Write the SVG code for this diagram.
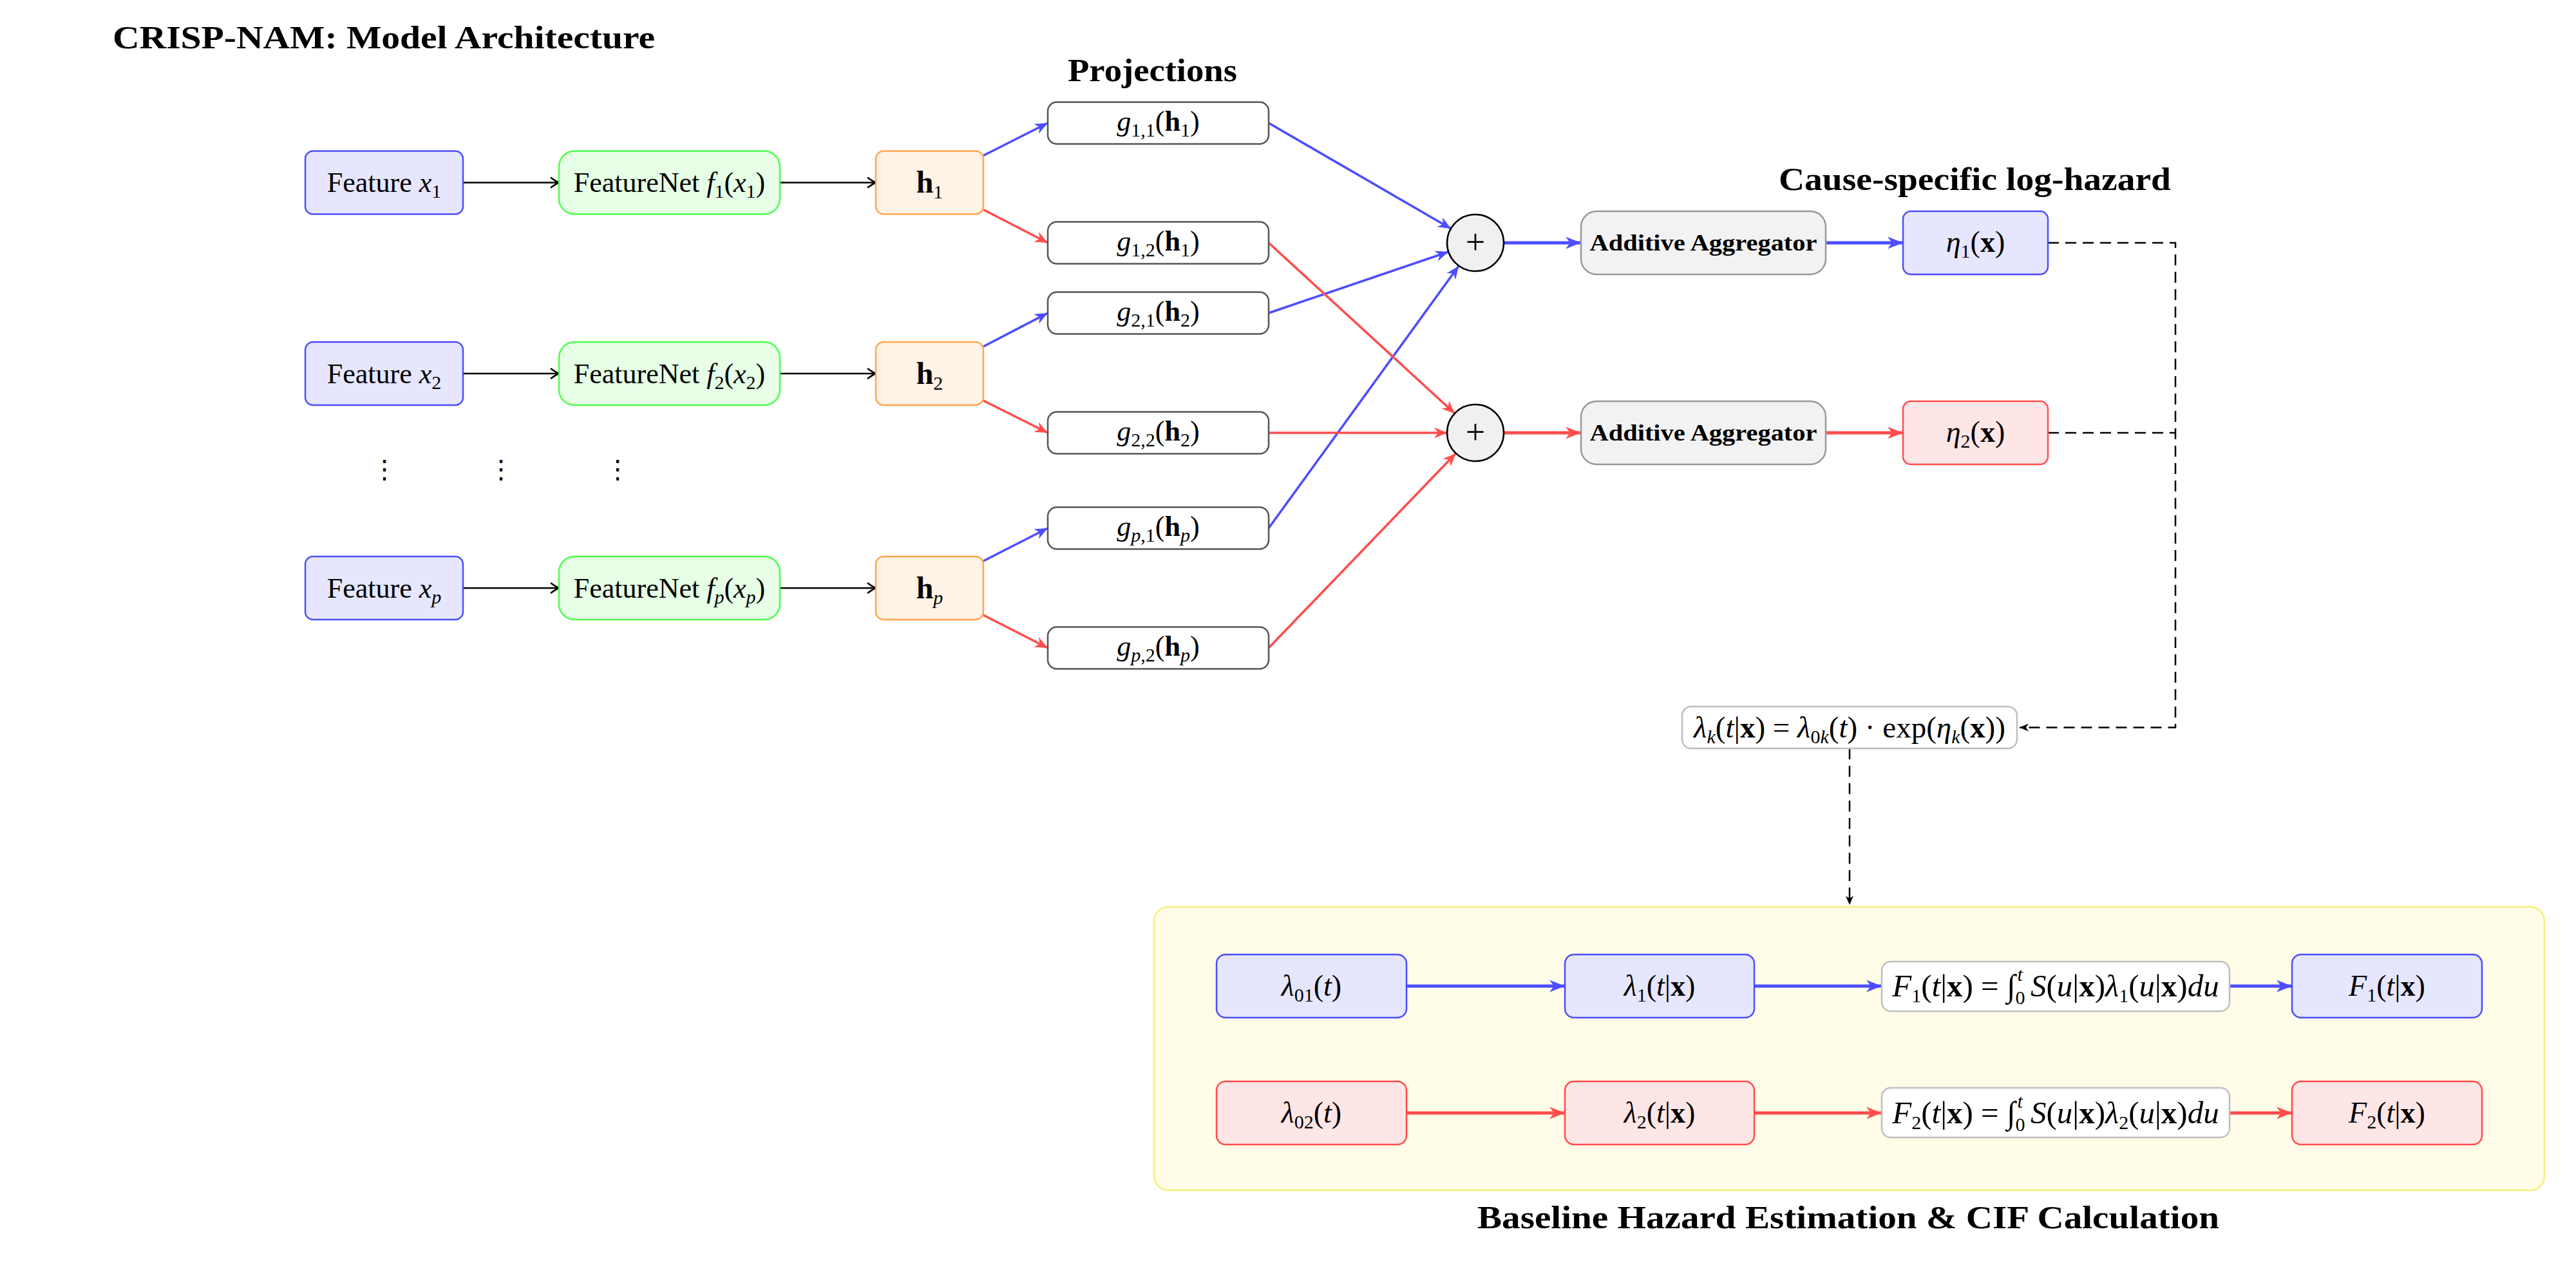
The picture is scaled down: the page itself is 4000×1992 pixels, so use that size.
<svg xmlns="http://www.w3.org/2000/svg" width="4000" height="1992" viewBox="0 0 4000 1992">
<style>
.t{font-family:"Liberation Serif","DejaVu Serif",serif;font-size:44px;text-anchor:middle;fill:#000}
.title{font-family:"Liberation Serif","DejaVu Serif",serif;font-size:51px;font-weight:bold;fill:#000}
.i{font-style:italic}
.b{font-weight:bold}
.s{font-size:30px}
.feat{fill:#e6e6ff;stroke:#4d4dff;stroke-width:2.5}
.red{fill:#ffe6e6;stroke:#ff4d4d;stroke-width:2.5}
.fnet{fill:#e6ffe6;stroke:#4dff4d;stroke-width:2.5}
.hbox{fill:#fff2e6;stroke:#ffa64d;stroke-width:2.5}
.gbox{fill:#fff;stroke:#555;stroke-width:2.5}
.agg{fill:#f2f2f2;stroke:#999;stroke-width:2.5}
.form{fill:#fff;stroke:#bfbfbf;stroke-width:2.5}
.plus{fill:#f0f0f0;stroke:#000;stroke-width:2.5}
.kb{stroke:#000;stroke-width:2.5;fill:none;marker-end:url(#mk)}
.lb{stroke:#4d4dff;stroke-width:3.6;fill:none;marker-end:url(#mb)}
.lr{stroke:#ff4d4d;stroke-width:3.6;fill:none;marker-end:url(#mr)}
.tb{stroke:#4d4dff;stroke-width:5;fill:none;marker-end:url(#mbt)}
.tr{stroke:#ff4d4d;stroke-width:5;fill:none;marker-end:url(#mrt)}
.dash{stroke:#000;stroke-width:2.5;fill:none;stroke-dasharray:17 10}
</style>
<defs>
<marker id="mk" viewBox="-16 -10 18 20" refX="0" refY="0" markerWidth="18" markerHeight="20" markerUnits="userSpaceOnUse" orient="auto"><path d="M-13,-8 Q-5,-2 0,0 Q-5,2 -13,8" fill="none" stroke="#000" stroke-width="2.5"/></marker>
<marker id="mb" viewBox="-22 -10 24 20" refX="0" refY="0" markerWidth="24" markerHeight="20" markerUnits="userSpaceOnUse" orient="auto"><path d="M0,0 L-20,-8.5 L-14,0 L-20,8.5 Z" fill="#4d4dff"/></marker>
<marker id="mr" viewBox="-22 -10 24 20" refX="0" refY="0" markerWidth="24" markerHeight="20" markerUnits="userSpaceOnUse" orient="auto"><path d="M0,0 L-20,-8.5 L-14,0 L-20,8.5 Z" fill="#ff4d4d"/></marker>
<marker id="mbt" viewBox="-26 -11 28 22" refX="0" refY="0" markerWidth="28" markerHeight="22" markerUnits="userSpaceOnUse" orient="auto"><path d="M0,0 L-24,-9.5 L-17,0 L-24,9.5 Z" fill="#4d4dff"/></marker>
<marker id="mrt" viewBox="-26 -11 28 22" refX="0" refY="0" markerWidth="28" markerHeight="22" markerUnits="userSpaceOnUse" orient="auto"><path d="M0,0 L-24,-9.5 L-17,0 L-24,9.5 Z" fill="#ff4d4d"/></marker>
<marker id="md" viewBox="-16 -8 18 16" refX="0" refY="0" markerWidth="18" markerHeight="16" markerUnits="userSpaceOnUse" orient="auto"><path d="M0,0 L-14,-6 L-10,0 L-14,6 Z" fill="#000"/></marker>
</defs>
<rect width="4000" height="1992" fill="#fff"/>

<g id="titles">
<text class="title" x="175" y="75" textLength="842" lengthAdjust="spacingAndGlyphs">CRISP-NAM: Model Architecture</text>
<text class="title" x="1658" y="126" textLength="263" lengthAdjust="spacingAndGlyphs">Projections</text>
<text class="title" x="2762" y="295" textLength="609" lengthAdjust="spacingAndGlyphs">Cause-specific log-hazard</text>
<text class="title" x="2294" y="1907" textLength="1152" lengthAdjust="spacingAndGlyphs">Baseline Hazard Estimation &amp; CIF Calculation</text>
</g>

<g id="panel">
<rect x="1792" y="1408" width="2159" height="440" rx="22" fill="#fffde8" stroke="#f8f08c" stroke-width="3"/>
</g>

<g id="connectors">
<line class="kb" x1="719" y1="283.5" x2="868" y2="283.5"/>
<line class="kb" x1="1211" y1="283.5" x2="1360" y2="283.5"/>
<line class="kb" x1="719" y1="580" x2="868" y2="580"/>
<line class="kb" x1="1211" y1="580" x2="1360" y2="580"/>
<line class="kb" x1="719" y1="913" x2="868" y2="913"/>
<line class="kb" x1="1211" y1="913" x2="1360" y2="913"/>
<line class="lb" x1="1527" y1="241.5" x2="1627" y2="191"/>
<line class="lr" x1="1527" y1="325.5" x2="1627" y2="377"/>
<line class="lb" x1="1527" y1="538" x2="1627" y2="486"/>
<line class="lr" x1="1527" y1="622" x2="1627" y2="672"/>
<line class="lb" x1="1527" y1="871" x2="1627" y2="820"/>
<line class="lr" x1="1527" y1="955" x2="1627" y2="1006"/>
<line class="lb" x1="1970" y1="191" x2="2253" y2="355"/>
<line class="lb" x1="1970" y1="486" x2="2249" y2="391"/>
<line class="lb" x1="1970" y1="820" x2="2265" y2="413"/>
<line class="lr" x1="1970" y1="377" x2="2259" y2="642"/>
<line class="lr" x1="1970" y1="672" x2="2247" y2="672"/>
<line class="lr" x1="1970" y1="1006" x2="2260.5" y2="704"/>
<line class="tb" x1="2335" y1="377" x2="2455" y2="377"/>
<line class="tr" x1="2335" y1="672" x2="2455" y2="672"/>
<line class="tb" x1="2835" y1="377" x2="2955" y2="377"/>
<line class="tr" x1="2835" y1="672" x2="2955" y2="672"/>
<path class="dash" d="M3180,377 H3378 V1129.5 H3136" marker-end="url(#md)"/>
<path class="dash" d="M3180,672 H3378"/>
<path class="dash" d="M2872,1162 V1405" marker-end="url(#md)"/>
<line class="tb" x1="2184" y1="1531" x2="2430" y2="1531"/>
<line class="tb" x1="2724" y1="1531" x2="2922" y2="1531"/>
<line class="tb" x1="3462" y1="1531" x2="3559" y2="1531"/>
<line class="tr" x1="2184" y1="1728" x2="2430" y2="1728"/>
<line class="tr" x1="2724" y1="1728" x2="2922" y2="1728"/>
<line class="tr" x1="3462" y1="1728" x2="3559" y2="1728"/>
</g>

<g id="feat1"><rect class="feat" x="474" y="234.5" width="245" height="98" rx="12"/><text class="t" x="596.5" y="298">Feature <tspan class="i">x</tspan><tspan class="s" dy="9">1</tspan></text></g>
<g id="feat2"><rect class="feat" x="474" y="531" width="245" height="98" rx="12"/><text class="t" x="596.5" y="594.5">Feature <tspan class="i">x</tspan><tspan class="s" dy="9">2</tspan></text></g>
<g id="featp"><rect class="feat" x="474" y="864" width="245" height="98" rx="12"/><text class="t" x="596.5" y="927.5">Feature <tspan class="i">x</tspan><tspan class="s i" dy="9">p</tspan></text></g>

<g id="fnet1"><rect class="fnet" x="868" y="234.5" width="343" height="98" rx="24"/><text class="t" x="1039.5" y="298">FeatureNet <tspan class="i">f</tspan><tspan class="s" dy="9">1</tspan><tspan dy="-9">(</tspan><tspan class="i">x</tspan><tspan class="s" dy="9">1</tspan><tspan dy="-9">)</tspan></text></g>
<g id="fnet2"><rect class="fnet" x="868" y="531" width="343" height="98" rx="24"/><text class="t" x="1039.5" y="594.5">FeatureNet <tspan class="i">f</tspan><tspan class="s" dy="9">2</tspan><tspan dy="-9">(</tspan><tspan class="i">x</tspan><tspan class="s" dy="9">2</tspan><tspan dy="-9">)</tspan></text></g>
<g id="fnetp"><rect class="fnet" x="868" y="864" width="343" height="98" rx="24"/><text class="t" x="1039.5" y="927.5">FeatureNet <tspan class="i">f</tspan><tspan class="s i" dy="9">p</tspan><tspan dy="-9">(</tspan><tspan class="i">x</tspan><tspan class="s i" dy="9">p</tspan><tspan dy="-9">)</tspan></text></g>

<g id="h1"><rect class="hbox" x="1360" y="234.5" width="167" height="98" rx="12"/><text class="t" x="1443.5" y="299" style="font-size:48px"><tspan class="b">h</tspan><tspan class="s" dy="9">1</tspan></text></g>
<g id="h2"><rect class="hbox" x="1360" y="531" width="167" height="98" rx="12"/><text class="t" x="1443.5" y="595.5" style="font-size:48px"><tspan class="b">h</tspan><tspan class="s" dy="9">2</tspan></text></g>
<g id="hp"><rect class="hbox" x="1360" y="864" width="167" height="98" rx="12"/><text class="t" x="1443.5" y="928.5" style="font-size:48px"><tspan class="b">h</tspan><tspan class="s i" dy="9">p</tspan></text></g>

<g id="dots">
<text class="t" x="597" y="742" style="font-family:'DejaVu Serif',serif;font-size:40px">⋮</text>
<text class="t" x="778" y="742" style="font-family:'DejaVu Serif',serif;font-size:40px">⋮</text>
<text class="t" x="959" y="742" style="font-family:'DejaVu Serif',serif;font-size:40px">⋮</text>
</g>

<g id="g11"><rect class="gbox" x="1627" y="158.5" width="343" height="65" rx="14"/><text class="t" x="1798.5" y="203"><tspan class="i">g</tspan><tspan class="s" dy="9">1,1</tspan><tspan dy="-9">(</tspan><tspan class="b">h</tspan><tspan class="s" dy="9">1</tspan><tspan dy="-9">)</tspan></text></g>
<g id="g12"><rect class="gbox" x="1627" y="344.5" width="343" height="65" rx="14"/><text class="t" x="1798.5" y="389"><tspan class="i">g</tspan><tspan class="s" dy="9">1,2</tspan><tspan dy="-9">(</tspan><tspan class="b">h</tspan><tspan class="s" dy="9">1</tspan><tspan dy="-9">)</tspan></text></g>
<g id="g21"><rect class="gbox" x="1627" y="453.5" width="343" height="65" rx="14"/><text class="t" x="1798.5" y="498"><tspan class="i">g</tspan><tspan class="s" dy="9">2,1</tspan><tspan dy="-9">(</tspan><tspan class="b">h</tspan><tspan class="s" dy="9">2</tspan><tspan dy="-9">)</tspan></text></g>
<g id="g22"><rect class="gbox" x="1627" y="639.5" width="343" height="65" rx="14"/><text class="t" x="1798.5" y="684"><tspan class="i">g</tspan><tspan class="s" dy="9">2,2</tspan><tspan dy="-9">(</tspan><tspan class="b">h</tspan><tspan class="s" dy="9">2</tspan><tspan dy="-9">)</tspan></text></g>
<g id="gp1"><rect class="gbox" x="1627" y="787.5" width="343" height="65" rx="14"/><text class="t" x="1798.5" y="832"><tspan class="i">g</tspan><tspan class="s" dy="9"><tspan class="i">p</tspan>,1</tspan><tspan dy="-9">(</tspan><tspan class="b">h</tspan><tspan class="s i" dy="9">p</tspan><tspan dy="-9">)</tspan></text></g>
<g id="gp2"><rect class="gbox" x="1627" y="973.5" width="343" height="65" rx="14"/><text class="t" x="1798.5" y="1018"><tspan class="i">g</tspan><tspan class="s" dy="9"><tspan class="i">p</tspan>,2</tspan><tspan dy="-9">(</tspan><tspan class="b">h</tspan><tspan class="s i" dy="9">p</tspan><tspan dy="-9">)</tspan></text></g>

<g id="plus1"><circle class="plus" cx="2291" cy="377" r="44"/><text class="t" x="2291" y="394" style="font-size:54px">+</text></g>
<g id="plus2"><circle class="plus" cx="2291" cy="672" r="44"/><text class="t" x="2291" y="689" style="font-size:54px">+</text></g>

<g id="agg1"><rect class="agg" x="2455" y="328" width="380" height="98" rx="24"/><text class="t b" x="2645" y="389" style="font-size:36px" textLength="353" lengthAdjust="spacingAndGlyphs">Additive Aggregator</text></g>
<g id="agg2"><rect class="agg" x="2455" y="623" width="380" height="98" rx="24"/><text class="t b" x="2645" y="684" style="font-size:36px" textLength="353" lengthAdjust="spacingAndGlyphs">Additive Aggregator</text></g>

<g id="eta1"><rect class="feat" x="2955" y="328" width="225" height="98" rx="12"/><text class="t" x="3067.5" y="391" style="font-size:46px"><tspan class="i">η</tspan><tspan class="s" dy="9">1</tspan><tspan dy="-9">(</tspan><tspan class="b">x</tspan>)</text></g>
<g id="eta2"><rect class="red" x="2955" y="623" width="225" height="98" rx="12"/><text class="t" x="3067.5" y="686" style="font-size:46px"><tspan class="i">η</tspan><tspan class="s" dy="9">2</tspan><tspan dy="-9">(</tspan><tspan class="b">x</tspan>)</text></g>

<g id="hazard"><rect class="form" x="2612" y="1097" width="520" height="65" rx="14"/><text class="t" x="2872" y="1145" style="font-size:47px"><tspan class="i">λ</tspan><tspan class="s i" dy="9">k</tspan><tspan dy="-9">(</tspan><tspan class="i">t</tspan>|<tspan class="b">x</tspan>) = <tspan class="i">λ</tspan><tspan class="s" dy="9">0<tspan class="i">k</tspan></tspan><tspan dy="-9">(</tspan><tspan class="i">t</tspan>) · exp(<tspan class="i">η</tspan><tspan class="s i" dy="9">k</tspan><tspan dy="-9">(</tspan><tspan class="b">x</tspan>))</text></g>

<g id="lam01"><rect class="feat" x="1889" y="1482" width="295" height="98" rx="14"/><text class="t" x="2036.5" y="1546" style="font-size:46px"><tspan class="i">λ</tspan><tspan class="s" dy="9">01</tspan><tspan dy="-9">(</tspan><tspan class="i">t</tspan>)</text></g>
<g id="lam1"><rect class="feat" x="2430" y="1482" width="294" height="98" rx="14"/><text class="t" x="2577" y="1546" style="font-size:46px"><tspan class="i">λ</tspan><tspan class="s" dy="9">1</tspan><tspan dy="-9">(</tspan><tspan class="i">t</tspan>|<tspan class="b">x</tspan>)</text></g>
<g id="cif1calc"><rect class="form" x="2922" y="1493" width="540" height="77" rx="14"/><text class="t" x="3192" y="1547" style="font-size:49px"><tspan class="i">F</tspan><tspan class="s" dy="9">1</tspan><tspan dy="-9">(</tspan><tspan class="i">t</tspan>|<tspan class="b">x</tspan>) = ∫<tspan class="s" dy="12">0</tspan><tspan class="s i" dx="-12" dy="-36">t</tspan><tspan dy="24"> </tspan><tspan class="i">S</tspan>(<tspan class="i">u</tspan>|<tspan class="b">x</tspan>)<tspan class="i">λ</tspan><tspan class="s" dy="9">1</tspan><tspan dy="-9">(</tspan><tspan class="i">u</tspan>|<tspan class="b">x</tspan>)<tspan class="i">du</tspan></text></g>
<g id="cif1"><rect class="feat" x="3559" y="1482" width="295" height="98" rx="14"/><text class="t" x="3706.5" y="1546" style="font-size:46px"><tspan class="i">F</tspan><tspan class="s" dy="9">1</tspan><tspan dy="-9">(</tspan><tspan class="i">t</tspan>|<tspan class="b">x</tspan>)</text></g>

<g id="lam02"><rect class="red" x="1889" y="1679" width="295" height="98" rx="14"/><text class="t" x="2036.5" y="1743" style="font-size:46px"><tspan class="i">λ</tspan><tspan class="s" dy="9">02</tspan><tspan dy="-9">(</tspan><tspan class="i">t</tspan>)</text></g>
<g id="lam2"><rect class="red" x="2430" y="1679" width="294" height="98" rx="14"/><text class="t" x="2577" y="1743" style="font-size:46px"><tspan class="i">λ</tspan><tspan class="s" dy="9">2</tspan><tspan dy="-9">(</tspan><tspan class="i">t</tspan>|<tspan class="b">x</tspan>)</text></g>
<g id="cif2calc"><rect class="form" x="2922" y="1689" width="540" height="77" rx="14"/><text class="t" x="3192" y="1744" style="font-size:49px"><tspan class="i">F</tspan><tspan class="s" dy="9">2</tspan><tspan dy="-9">(</tspan><tspan class="i">t</tspan>|<tspan class="b">x</tspan>) = ∫<tspan class="s" dy="12">0</tspan><tspan class="s i" dx="-12" dy="-36">t</tspan><tspan dy="24"> </tspan><tspan class="i">S</tspan>(<tspan class="i">u</tspan>|<tspan class="b">x</tspan>)<tspan class="i">λ</tspan><tspan class="s" dy="9">2</tspan><tspan dy="-9">(</tspan><tspan class="i">u</tspan>|<tspan class="b">x</tspan>)<tspan class="i">du</tspan></text></g>
<g id="cif2"><rect class="red" x="3559" y="1679" width="295" height="98" rx="14"/><text class="t" x="3706.5" y="1743" style="font-size:46px"><tspan class="i">F</tspan><tspan class="s" dy="9">2</tspan><tspan dy="-9">(</tspan><tspan class="i">t</tspan>|<tspan class="b">x</tspan>)</text></g>
</svg>
